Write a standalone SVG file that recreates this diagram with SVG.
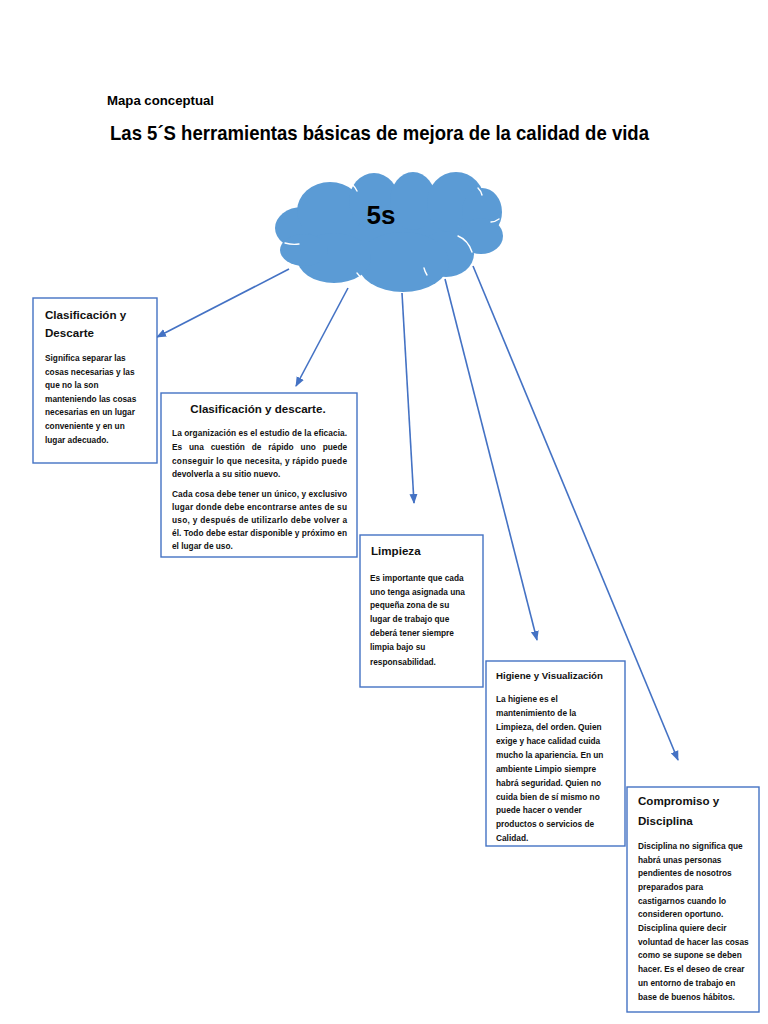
<svg xmlns="http://www.w3.org/2000/svg" width="768" height="1024" viewBox="0 0 768 1024">
<style>
.box{fill:#fff;stroke:#4472C4;stroke-width:1.4}
.ttl{font-family:"Liberation Sans",Arial,sans-serif;font-weight:bold;fill:#000}
.h{font-family:"Liberation Sans",Arial,sans-serif;font-weight:bold;font-size:11.6px;fill:#111}
.b{font-family:"Liberation Sans",Arial,sans-serif;font-weight:bold;font-size:8.3px;fill:#111}
.con{stroke:#4472C4;stroke-width:1.6;fill:none}
.cl{fill:#5B9BD5}
.seam{fill:none;stroke:#fff;stroke-width:1.4;stroke-linecap:round}
</style>
<defs>
<marker id="ah" markerUnits="userSpaceOnUse" markerWidth="10" markerHeight="10" viewBox="0 0 10 10" refX="9" refY="5" orient="auto">
<path d="M0,1 L10,5 L0,9 Z" fill="#4472C4"/>
</marker>
</defs>
<rect width="768" height="1024" fill="#fff"/>

<text class="ttl" x="107" y="105" font-size="13.2">Mapa conceptual</text>
<text class="ttl" x="110" y="140" font-size="20.5" textLength="539" lengthAdjust="spacingAndGlyphs">Las 5´S herramientas básicas de mejora de la calidad de vida</text>

<g id="connectors">
<line class="con" x1="289" y1="269" x2="157" y2="337" marker-end="url(#ah)"/>
<line class="con" x1="348" y1="288" x2="296" y2="386" marker-end="url(#ah)"/>
<line class="con" x1="402" y1="293" x2="414" y2="503" marker-end="url(#ah)"/>
<line class="con" x1="445" y1="279" x2="537" y2="640" marker-end="url(#ah)"/>
<line class="con" x1="473" y1="266" x2="678" y2="760" marker-end="url(#ah)"/>
</g>

<g id="cloud-5s">
<ellipse class="cl" cx="390" cy="232" rx="88" ry="42"/>
<ellipse class="cl" cx="302" cy="228" rx="27" ry="21"/>
<ellipse class="cl" cx="330" cy="211" rx="33" ry="29"/>
<ellipse class="cl" cx="374" cy="201" rx="25" ry="28"/>
<ellipse class="cl" cx="413" cy="201" rx="23" ry="29"/>
<ellipse class="cl" cx="456" cy="203" rx="29" ry="31"/>
<ellipse class="cl" cx="482" cy="212" rx="20" ry="24"/>
<ellipse class="cl" cx="481" cy="236" rx="22" ry="18"/>
<ellipse class="cl" cx="446" cy="254" rx="28" ry="23"/>
<ellipse class="cl" cx="403" cy="262" rx="46" ry="30"/>
<ellipse class="cl" cx="334" cy="258" rx="37" ry="25"/>
<ellipse class="cl" cx="304" cy="250" rx="24" ry="16"/>
<path class="seam" d="M285,243 Q292,245 299,244"/>
<path class="seam" d="M352,184 Q355,187 357,191"/>
<path class="seam" d="M478,188 Q481,191 482,195"/>
<path class="seam" d="M499,219 Q495,222 491,222"/>
<path class="seam" d="M458,236 Q468,240 472,252"/>
<path class="seam" d="M424,268 Q425,272 427,275"/>
<path class="seam" d="M357,273 Q360,276 362,280"/>
<text class="ttl" x="381" y="224" font-size="26" text-anchor="middle">5s</text>
</g>

<g id="node-clasificacion-1">
<rect class="box" x="33" y="298" width="124" height="165"/>
<text class="h" x="45" y="319">Clasificación y</text>
<text class="h" x="45" y="337">Descarte</text>
<text class="b" x="45" y="361">Significa separar las</text>
<text class="b" x="45" y="375">cosas necesarias y las</text>
<text class="b" x="45" y="388">que no la son</text>
<text class="b" x="45" y="402">manteniendo las cosas</text>
<text class="b" x="45" y="415">necesarias en un lugar</text>
<text class="b" x="45" y="429">conveniente y en un</text>
<text class="b" x="45" y="443">lugar adecuado.</text>
</g>

<g id="node-clasificacion-2">
<rect class="box" x="161" y="393" width="196" height="164"/>
<text class="h" x="258" y="413" text-anchor="middle">Clasificación y descarte.</text>
<text class="b" x="172" y="436" textLength="175" lengthAdjust="spacing">La organización es el estudio de la eficacia.</text>
<text class="b" x="172" y="450" word-spacing="4.6">Es una cuestión de rápido uno puede</text>
<text class="b" x="172" y="464" textLength="175" lengthAdjust="spacing">conseguir lo que necesita, y rápido puede</text>
<text class="b" x="172" y="477">devolverla a su sitio nuevo.</text>
<text class="b" x="172" y="497" textLength="175" lengthAdjust="spacing">Cada cosa debe tener un único, y exclusivo</text>
<text class="b" x="172" y="510" textLength="175" lengthAdjust="spacing">lugar donde debe encontrarse antes de su</text>
<text class="b" x="172" y="523" textLength="175" lengthAdjust="spacing">uso, y después de utilizarlo debe volver a</text>
<text class="b" x="172" y="536" textLength="175" lengthAdjust="spacing">él. Todo debe estar disponible y próximo en</text>
<text class="b" x="172" y="549">el lugar de uso.</text>
</g>

<g id="node-limpieza">
<rect class="box" x="360" y="535" width="123" height="152"/>
<text class="h" x="371" y="555">Limpieza</text>
<text class="b" x="370" y="581">Es importante que cada</text>
<text class="b" x="370" y="595">uno tenga asignada una</text>
<text class="b" x="370" y="608">pequeña zona de su</text>
<text class="b" x="370" y="622">lugar de trabajo que</text>
<text class="b" x="370" y="636">deberá tener siempre</text>
<text class="b" x="370" y="650">limpia bajo su</text>
<text class="b" x="370" y="665">responsabilidad.</text>
</g>

<g id="node-higiene">
<rect class="box" x="486" y="661" width="139" height="185"/>
<text class="h" x="496" y="679" style="font-size:9.7px">Higiene y Visualización</text>
<text class="b" x="496" y="702">La higiene es el</text>
<text class="b" x="496" y="716">mantenimiento de la</text>
<text class="b" x="496" y="730">Limpieza, del orden. Quien</text>
<text class="b" x="496" y="744">exige y hace calidad cuida</text>
<text class="b" x="496" y="758">mucho la apariencia. En un</text>
<text class="b" x="496" y="772">ambiente Limpio siempre</text>
<text class="b" x="496" y="786">habrá seguridad. Quien no</text>
<text class="b" x="496" y="800">cuida bien de sí mismo no</text>
<text class="b" x="496" y="813">puede hacer o vender</text>
<text class="b" x="496" y="827">productos o servicios de</text>
<text class="b" x="496" y="841">Calidad.</text>
</g>

<g id="node-compromiso">
<rect class="box" x="627" y="787" width="132" height="225"/>
<text class="h" x="638" y="805">Compromiso y</text>
<text class="h" x="638" y="825">Disciplina</text>
<text class="b" x="638" y="849">Disciplina no significa que</text>
<text class="b" x="638" y="863">habrá unas personas</text>
<text class="b" x="638" y="876">pendientes de nosotros</text>
<text class="b" x="638" y="890">preparados para</text>
<text class="b" x="638" y="904">castigarnos cuando lo</text>
<text class="b" x="638" y="917">consideren oportuno.</text>
<text class="b" x="638" y="931">Disciplina quiere decir</text>
<text class="b" x="638" y="945">voluntad de hacer las cosas</text>
<text class="b" x="638" y="958">como se supone se deben</text>
<text class="b" x="638" y="972">hacer. Es el deseo de crear</text>
<text class="b" x="638" y="986">un entorno de trabajo en</text>
<text class="b" x="638" y="1000">base de buenos hábitos.</text>
</g>
</svg>
